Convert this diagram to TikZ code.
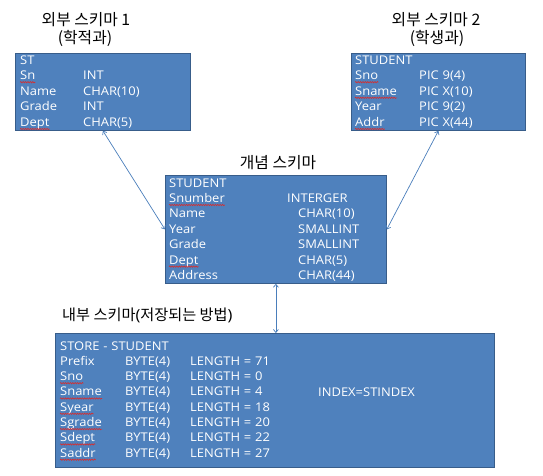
\documentclass[tikz,border=0pt]{standalone}
\usepackage{fontspec}
\setmainfont[FakeStretch=1.08, WordSpace=1.15]{Open Sans}
\newfontfamily\krfont{Noto Sans CJK KR}
\usetikzlibrary{arrows.meta, positioning, decorations.pathmorphing}
\definecolor{boxblue}{RGB}{79, 129, 189}
\definecolor{boxedge}{RGB}{56, 93, 138}
\definecolor{linkblue}{RGB}{74, 126, 187}
\definecolor{spellred}{RGB}{215, 45, 45}

\tikzset{
  schemabox/.style={draw=boxedge, fill=boxblue, line width=0.8pt, inner sep=0pt, anchor=north west},
  field/.style={text=white, font=\fontsize{12}{14}\selectfont, inner sep=0pt, anchor=base west},
  title/.style={font=\krfont\fontsize{15.8}{18}\selectfont, inner sep=0pt},
  link/.style={draw=linkblue, line width=0.7pt, {Straight Barb[length=3pt,width=5pt]}-{Straight Barb[length=3pt,width=5pt]}},
  typo/.style={draw=spellred, line width=0.6pt, decorate, decoration={snake, amplitude=0.7pt, segment length=2.4pt}}
}

\begin{document}
\begin{tikzpicture}[x=1pt, y=-1pt]
  \useasboundingbox (0,0) rectangle (543,475);

  % External schema 1
  \node[title] (titleone) at (86,20) {외부 스키마 1};
  \node[title] (deptone) at (85,38) {(학적과)};
  \node[schemabox, minimum width=175pt, minimum height=77pt] (extone) at (15,53) {};
  \foreach \nm/\ty/\u [count=\i from 0] in {ST//0, Sn/INT/1, Name/CHAR(10)/0, Grade/INT/0, Dept/CHAR(5)/1} {
    \node[field] (one-n\i) at (20, 64+15.6*\i) {\nm};
    \node[field] (one-t\i) at (83, 64+15.6*\i) {\ty};
    \ifnum\u=1 \draw[typo] ([yshift=-2.6pt]one-n\i.base west) -- ([yshift=-2.6pt]one-n\i.base east); \fi
  }

  % External schema 2
  \node[title] (titletwo) at (436,20) {외부 스키마 2};
  \node[title] (depttwo) at (437,38) {(학생과)};
  \node[schemabox, minimum width=174pt, minimum height=77pt] (exttwo) at (351,53) {};
  \foreach \nm/\ty/\u [count=\i from 0] in {STUDENT//0, Sno/PIC 9(4)/1, Sname/PIC X(10)/1, Year/PIC 9(2)/0, Addr/PIC X(44)/1} {
    \node[field] (two-n\i) at (355, 64+15.6*\i) {\nm};
    \node[field] (two-t\i) at (419, 64+15.6*\i) {\ty};
    \ifnum\u=1 \draw[typo] ([yshift=-2.6pt]two-n\i.base west) -- ([yshift=-2.6pt]two-n\i.base east); \fi
  }

  % Conceptual schema
  \node[title] (titleconcept) at (278,163) {개념 스키마};
  \node[schemabox, minimum width=221pt, minimum height=108pt] (concept) at (165,175) {};
  \foreach \nm/\ty/\u/\tx [count=\i from 0] in {STUDENT//0/298, Snumber/INTERGER/1/287, Name/CHAR(10)/0/298, Year/SMALLINT/0/298, Grade/SMALLINT/0/298, Dept/CHAR(5)/1/298, Address/CHAR(44)/0/298} {
    \node[field] (con-n\i) at (169, 187+15.4*\i) {\nm};
    \node[field] (con-t\i) at (\tx, 187+15.4*\i) {\ty};
    \ifnum\u=1 \draw[typo] ([yshift=-2.6pt]con-n\i.base west) -- ([yshift=-2.6pt]con-n\i.base east); \fi
  }

  % Internal schema
  \node[title, anchor=west, font=\krfont\fontsize{15.2}{18}\selectfont] (titleinternal) at (62,315) {내부 스키마{\rmfamily(}저장되는 방법{\rmfamily)}};
  \node[schemabox, minimum width=439pt, minimum height=134pt] (internal) at (55,333) {};
  \node[field] (store) at (60,350) {STORE - STUDENT};
  \foreach \nm/\len/\u [count=\i from 1] in {Prefix/71/0, Sno/0/1, Sname/4/1, Syear/18/1, Sgrade/20/1, Sdept/22/1, Saddr/27/1} {
    \node[field] (int-n\i) at (60, 350+15.3*\i) {\nm};
    \node[field] (int-b\i) at (125, 350+15.3*\i) {BYTE(4)};
    \node[field] (int-l\i) at (190, 350+15.3*\i) {LENGTH = \len};
    \ifnum\u=1 \draw[typo] ([yshift=-2.6pt]int-n\i.base west) -- ([yshift=-2.6pt]int-n\i.base east); \fi
  }
  \node[field] (stindex) at (318,396) {INDEX=STINDEX};

  % Mappings
  \draw[link] (extone.south) -- (concept.west);
  \draw[link] (exttwo.south) -- (concept.east);
  \draw[link] (concept.south) -- (concept.south |- internal.north);
\end{tikzpicture}
\end{document}
